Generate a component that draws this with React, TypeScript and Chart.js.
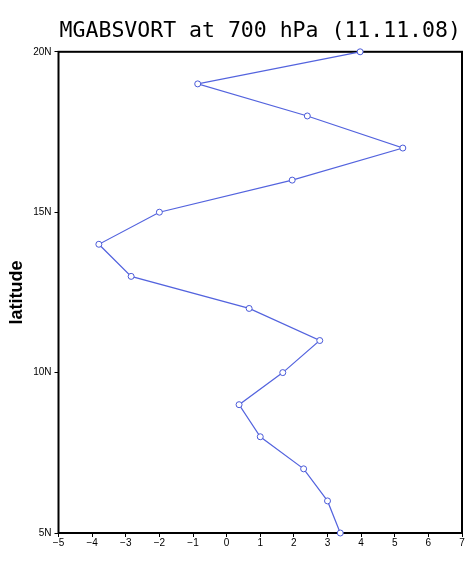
import { useEffect, useRef } from "react"
import { Chart, registerables } from "chart.js"

Chart.register(...registerables)

// latitude (deg N) and the absolute vorticity value
const latitudes = [5, 6, 7, 8, 9, 10, 11, 12, 13, 14, 15, 16, 17, 18, 19, 20]
const vorticity = [3.38, 3.0, 2.29, 1.0, 0.37, 1.67, 2.77, 0.67, -2.84, -3.8, -2.0, 1.95, 5.24, 2.4, -0.86, 3.97]

const latTicks = [5, 10, 15, 20]
const titleText = "MGABSVORT at 700 hPa (11.11.08)"
const yLabel = "latitude"

const tickFont = { family: "'Liberation Sans', Arial, sans-serif", size: 10 }

// black box around the plot area (Chart.js only draws the left/bottom borders)
const frame = {
  id: "frame",
  beforeDatasetsDraw(chart: Chart) {
    const { ctx, chartArea } = chart
    ctx.save()
    ctx.strokeStyle = "#000"
    ctx.lineWidth = 2
    ctx.strokeRect(chartArea.left, chartArea.top, chartArea.right - chartArea.left, chartArea.bottom - chartArea.top)
    ctx.restore()
  },
}

export default function App() {
  const chartRef = useRef<HTMLCanvasElement>(null)
  const chartInstance = useRef<Chart | null>(null)

  useEffect(() => {
    if (!chartRef.current) return
    if (chartInstance.current) chartInstance.current.destroy()
    const ctx = chartRef.current.getContext("2d")
    if (!ctx) return

    chartInstance.current = new Chart(ctx, {
      type: "line",
      data: {
        datasets: [
          {
            data: latitudes.map((lat, i) => ({ x: vorticity[i], y: lat })),
            borderColor: "#5363de",
            borderWidth: 1.2,
            pointRadius: 3,
            pointBorderWidth: 1,
            pointBackgroundColor: "#fff",
            pointBorderColor: "#4a5ad8",
            tension: 0,
            clip: false,
          },
        ],
      },
      options: {
        animation: false,
        responsive: true,
        maintainAspectRatio: false,
        layout: { padding: { left: 0, right: 12, top: 0, bottom: 0 } },
        plugins: {
          legend: { display: false },
          tooltip: { enabled: false },
          title: {
            display: true,
            text: titleText,
            color: "#000",
            fullSize: false,
            font: { family: "'DejaVu Sans Mono', monospace", size: 21.5, weight: "normal", lineHeight: 1.2 },
            padding: { top: 19, bottom: 7 },
          },
        },
        scales: {
          x: {
            type: "linear",
            min: -5,
            max: 7,
            border: { display: false },
            grid: { drawOnChartArea: false, drawTicks: true, tickLength: 4, color: "#000" },
            ticks: {
              stepSize: 1,
              color: "#000",
              font: tickFont,
              padding: 0,
              maxRotation: 0,
              callback: (v) => String(v).replace("-", "\u2212"),
            },
            afterFit: (scale) => {
              scale.height = 32
            },
          },
          y: {
            type: "linear",
            min: 5,
            max: 20,
            border: { display: false },
            grid: { drawOnChartArea: false, drawTicks: true, tickLength: 4, color: "#000" },
            afterBuildTicks: (scale) => {
              scale.ticks = latTicks.map((v) => ({ value: v }))
            },
            ticks: {
              color: "#000",
              font: tickFont,
              padding: 3,
              callback: (v) => v + "N",
            },
            title: {
              display: true,
              text: yLabel,
              color: "#000",
              font: { family: "'Liberation Sans', Arial, sans-serif", size: 18, weight: "bold" },
              padding: { top: 6, bottom: 0 },
            },
            afterFit: (scale) => {
              scale.width = 58.5
            },
          },
        },
      },
      plugins: [frame],
    })

    return () => {
      if (chartInstance.current) {
        chartInstance.current.destroy()
        chartInstance.current = null
      }
    }
  }, [])

  return (
    <div style={{ position: "absolute", left: 0, top: 0, width: 474, height: 565, background: "#fff" }}>
      <canvas ref={chartRef} />
    </div>
  )
}
